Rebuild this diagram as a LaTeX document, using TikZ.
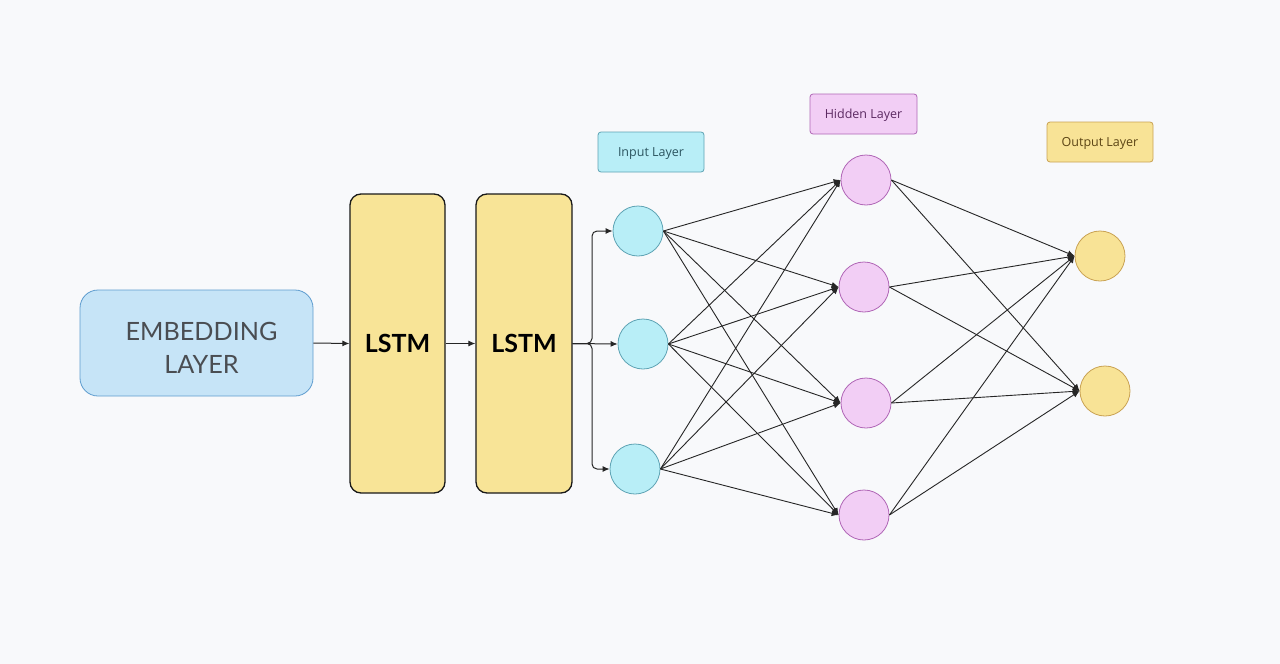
\documentclass[tikz,border=0pt]{standalone}
\usepackage{fontspec}
\setmainfont{Open Sans}
\newfontfamily\latofont{Lato}
\usetikzlibrary{arrows.meta}
\definecolor{bgc}{HTML}{F8F9FB}
\definecolor{embfill}{HTML}{C6E4F7}
\definecolor{embdraw}{HTML}{5E9CCF}
\definecolor{embtext}{HTML}{4A4D52}
\definecolor{lstmfill}{HTML}{F8E497}
\definecolor{infill}{HTML}{B8EEF7}
\definecolor{indraw}{HTML}{5EA3B4}
\definecolor{intext}{HTML}{2C5560}
\definecolor{hidfill}{HTML}{F2CEF5}
\definecolor{hiddraw}{HTML}{B066B6}
\definecolor{hidtext}{HTML}{5C2A62}
\definecolor{outfill}{HTML}{F8E396}
\definecolor{outdraw}{HTML}{C9A253}
\definecolor{outtext}{HTML}{5C4515}
\definecolor{edgec}{HTML}{262626}
\tikzset{
  embbox/.style={draw=embdraw, fill=embfill, line width=0.8pt, rounded corners=18pt,
    minimum width=233pt, minimum height=106pt},
  embtxt/.style={align=center, text=embtext, inner sep=0pt,
    font=\latofont\fontsize{25.2}{33}\selectfont},
  lstmbox/.style={draw=black!90, fill=lstmfill, line width=1.3pt, rounded corners=11pt,
    minimum height=299pt, text=black, font=\latofont\bfseries\fontsize{25}{30}\selectfont},
  neuron/.style={circle, minimum size=50pt, inner sep=0pt, line width=0.8pt},
  innode/.style={neuron, draw=indraw, fill=infill},
  hidnode/.style={neuron, draw=hiddraw, fill=hidfill},
  outnode/.style={neuron, draw=outdraw, fill=outfill},
  labbox/.style={rounded corners=3pt, line width=0.8pt, minimum width=106pt,
    minimum height=40pt, text depth=0pt, font=\fontsize{12.5}{15}\selectfont},
  arr/.style={draw=edgec, line width=1pt, -{Latex[length=7pt,width=6pt]}},
  edge/.style={draw=edgec, line width=0.9pt, -{Latex[length=7pt,width=6pt]}}
}
\begin{document}
\begin{tikzpicture}[x=1pt,y=-1pt]
\fill[bgc] (0,0) rectangle (1280,664);
\useasboundingbox (0,0) rectangle (1280,664);

\node[embbox] (emb) at (196.5,343) {};
\node[embtxt] (embt) at (201.5,347.5) {EMBEDDING\\LAYER};
\node[lstmbox, minimum width=95pt] (l1) at (397.5,343.5) {LSTM};
\node[lstmbox, minimum width=96pt] (l2) at (524,343.5) {LSTM};

\node[innode] (in1) at (638,231) {};
\node[innode] (in2) at (643,344) {};
\node[innode] (in3) at (635,469) {};

\node[hidnode] (h1) at (866,180) {};
\node[hidnode] (h2) at (864,287) {};
\node[hidnode] (h3) at (866,403) {};
\node[hidnode] (h4) at (864,515) {};

\node[outnode] (o1) at (1100,256) {};
\node[outnode] (o2) at (1105,391) {};

\node[labbox, draw=indraw, fill=infill, text=intext] (linput) at (651,152) {Input Layer};
\node[labbox, draw=hiddraw, fill=hidfill, text=hidtext, minimum width=107pt] (lhidden) at (863.5,114) {Hidden Layer};
\node[labbox, draw=outdraw, fill=outfill, text=outtext] (loutput) at (1100,142) {Output Layer};

\draw[arr] (emb.east) -- (l1.west);
\draw[arr] (l1.east) -- (l2.west);
\coordinate (br) at (592,343.5);
\draw[arr, rounded corners=5pt] (l2.east) -- (br) |- (in1.west);
\draw[arr] (l2.east) -- (in2.west);
\draw[arr, rounded corners=5pt] (l2.east) -- (br) |- (in3.west);

\foreach \i in {1,2,3}{
  \foreach \j in {1,2,3,4}{
    \draw[edge] (in\i.east) -- (h\j.west);
  }
}
\foreach \j in {1,2,3,4}{
  \foreach \k in {1,2}{
    \draw[edge] (h\j.east) -- (o\k.west);
  }
}
\end{tikzpicture}
\end{document}
